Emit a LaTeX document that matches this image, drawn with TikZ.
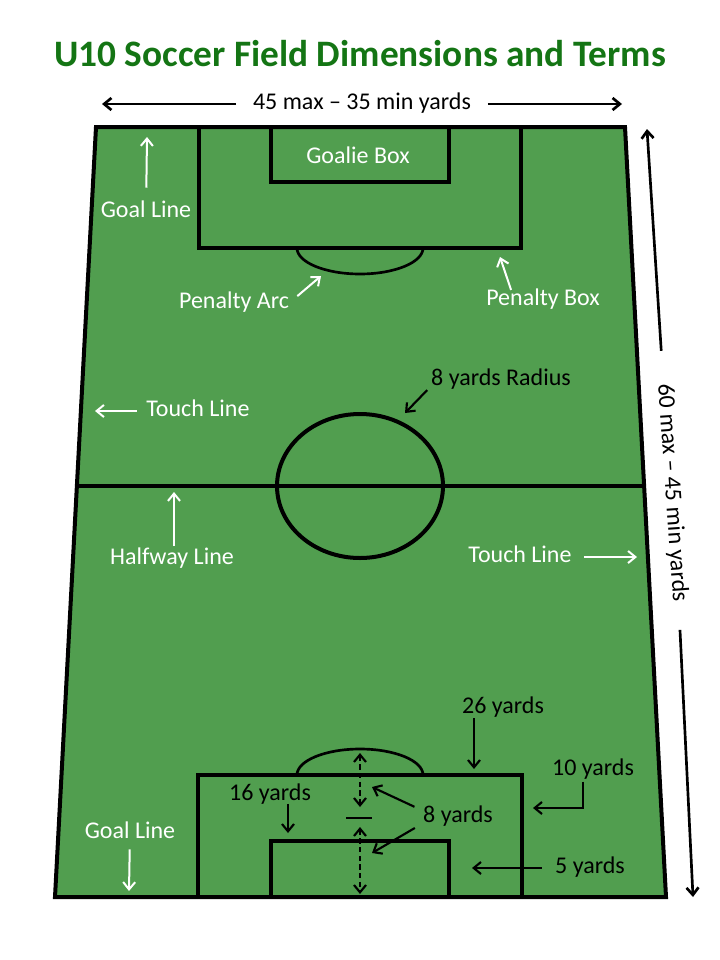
\documentclass[tikz,border=0pt]{standalone}
\usepackage{fontspec}
\setmainfont{Carlito}
\usepackage{tikz}
\usetikzlibrary{arrows.meta,calc,positioning}
\definecolor{feld}{RGB}{81,158,79}
\definecolor{titelgruen}{RGB}{20,117,20}

\begin{document}
\begin{tikzpicture}[x=0.75pt,y=-0.75pt]
	\tikzset{>={Straight Barb[length=5.5pt,width=9pt]}}
	\tikzset{linie/.style={line width=3pt}}
	\tikzset{wtext/.style={white,font=\fontsize{18}{20}\selectfont,inner sep=0pt,text height=0.85em,text depth=0.05em}}
	\tikzset{btext/.style={wtext,black}}
	\tikzset{wpfeil/.style={->,white,line width=1.5pt}}
	\tikzset{bpfeil/.style={->,black,line width=1.6pt}}
	\useasboundingbox (0,0) rectangle (720,960);

	% Titel
	\node[text=titelgruen,font=\fontsize{28}{30}\selectfont\bfseries] (titel) at (360,54) {U10 Soccer Field Dimensions and Terms};

	% Spielfeld
	\coordinate (nw) at (96,127);
	\coordinate (ne) at (625,127);
	\coordinate (se) at (666,897);
	\coordinate (sw) at (55,897);
	\fill[feld] (nw) -- (ne) -- (se) -- (sw) -- cycle;

	% Mittellinie und Mittelkreis
	\draw[line width=2.5pt] ($(nw)!.4662!(sw)$) -- ($(ne)!.4662!(se)$);
	\draw[linie] (360,486) ellipse [x radius=83, y radius=72];

	% Strafraum oben
	\draw[linie] (199,127) -- (199,248) -- (521,248) -- (521,127);
	\draw[linie] (271,127) -- (271,182) -- (449,182) -- (449,127);
	\draw[line width=2pt] (297,248) arc[start angle=180, end angle=0, x radius=63, y radius=26];

	% Strafraum unten
	\draw[linie] (198,897) -- (198,775) -- (522,775) -- (522,897);
	\draw[linie] (271,897) -- (271,841) -- (449,841) -- (449,897);
	\draw[line width=2pt] (297,775) arc[start angle=180, end angle=360, x radius=63, y radius=26];

	% Rand
	\draw[linie] (nw) -- (ne) -- (se) -- (sw) -- cycle;

	% Begriffe (weiss)
	\node[wtext] (gl1) at (146,212) {Goal Line};
	\coordinate (gl1e) at (147,137);
	\draw[wpfeil, shorten <=13.5pt] (gl1) -- (gl1e);

	\node[wtext] (gb) at (358,158) {Goalie Box};

	\node[wtext] (pa) at (234,303) {Penalty Arc};
	\coordinate (pae) at (321,276);
	\draw[wpfeil, shorten <=8pt] (pa.east) -- (pae);

	\node[wtext] (pb) at (543,300) {Penalty Box};
	\coordinate (pbe) at (500,257);
	\draw[wpfeil, shorten <=3pt] ([xshift=-23pt]pb.north) -- (pbe);

	\node[wtext] (tl1) at (198,411) {Touch Line};
	\coordinate (tl1e) at (95,411);
	\draw[wpfeil, shorten <=7pt] (tl1.west) -- (tl1e);

	\node[wtext] (hl) at (172,559) {Halfway Line};
	\coordinate (hle) at (174,492);
	\draw[wpfeil, shorten <=5pt] ([xshift=1.5pt]hl.north) -- (hle);

	\node[wtext] (tl2) at (520,557) {Touch Line};
	\coordinate (tl2e) at (637,557);
	\draw[wpfeil, shorten <=9pt] (tl2.east) -- (tl2e);

	\node[wtext] (gl2) at (130,833) {Goal Line};
	\coordinate (gl2e) at (129,891);
	\draw[wpfeil, shorten <=7.5pt] (gl2) -- (gl2e);

	% Masse (schwarz)
	\node[btext] (r8) at (501,380) {8 yards Radius};
	\coordinate (r8e) at (405,413);
	\draw[bpfeil, shorten <=4pt] (r8.south west) -- (r8e);

	\node[btext] (y26) at (503,708) {26 yards};
	\coordinate (y26e) at (474,769);
	\draw[bpfeil, shorten <=3pt] ([xshift=-21.75pt]y26.south) -- (y26e);

	\node[btext] (y10) at (593,770) {10 yards};
	\coordinate (y10e) at (533,808);
	\draw[bpfeil, shorten <=4pt] ([xshift=-7.5pt]y10.south) |- (y10e);

	\node[btext] (y8) at (458,817) {8 yards};
	\coordinate (y8a) at (372,787);
	\coordinate (y8b) at (372,853);
	\draw[bpfeil, shorten <=7pt] (y8.north west) -- (y8a);
	\draw[bpfeil, shorten <=7pt] (y8.south west) -- (y8b);

	\node[btext] (y16) at (270,795) {16 yards};
	\coordinate (y16e) at (288,833);
	\draw[bpfeil, shorten <=2pt] ([xshift=13.5pt]y16.south) -- (y16e);

	\node[btext] (y5) at (590,868) {5 yards};
	\coordinate (y5e) at (472,868);
	\draw[bpfeil, shorten <=10pt] (y5.west) -- (y5e);

	% gestrichelte Pfeile
	\coordinate (d1) at (360,753);
	\coordinate (d2) at (360,807);
	\coordinate (d3) at (360,827);
	\coordinate (d4) at (360,894);
	\coordinate (m1) at (346,818);
	\coordinate (m2) at (372,818);
	\draw[<->, line width=1.6pt, dash pattern=on 4pt off 2.5pt] (d1) -- (d2);
	\draw[<->, line width=1.6pt, dash pattern=on 4pt off 2.5pt] (d3) -- (d4);
	\draw[line width=2pt] (m1) -- (m2);

	% Breite
	\node[btext] (b45) at (362,104) {45 max – 35 min yards};
	\coordinate (b45l) at (102,104);
	\coordinate (b45r) at (622,104);
	\draw[bpfeil, line width=2pt, shorten <=12.5pt] (b45.west) -- (b45l);
	\draw[bpfeil, line width=2pt, shorten <=12.5pt] (b45.east) -- (b45r);

	% Laenge
	\node[btext, rotate=-86] (l60) at (671,493) {60 max – 45 min yards};
	\coordinate (l60o) at (647,129);
	\coordinate (l60u) at (693,897);
	\draw[bpfeil, line width=2pt, shorten <=25pt] (l60.west) -- (l60o);
	\draw[bpfeil, line width=2pt, shorten <=21pt] (l60.east) -- (l60u);
\end{tikzpicture}
\end{document}
